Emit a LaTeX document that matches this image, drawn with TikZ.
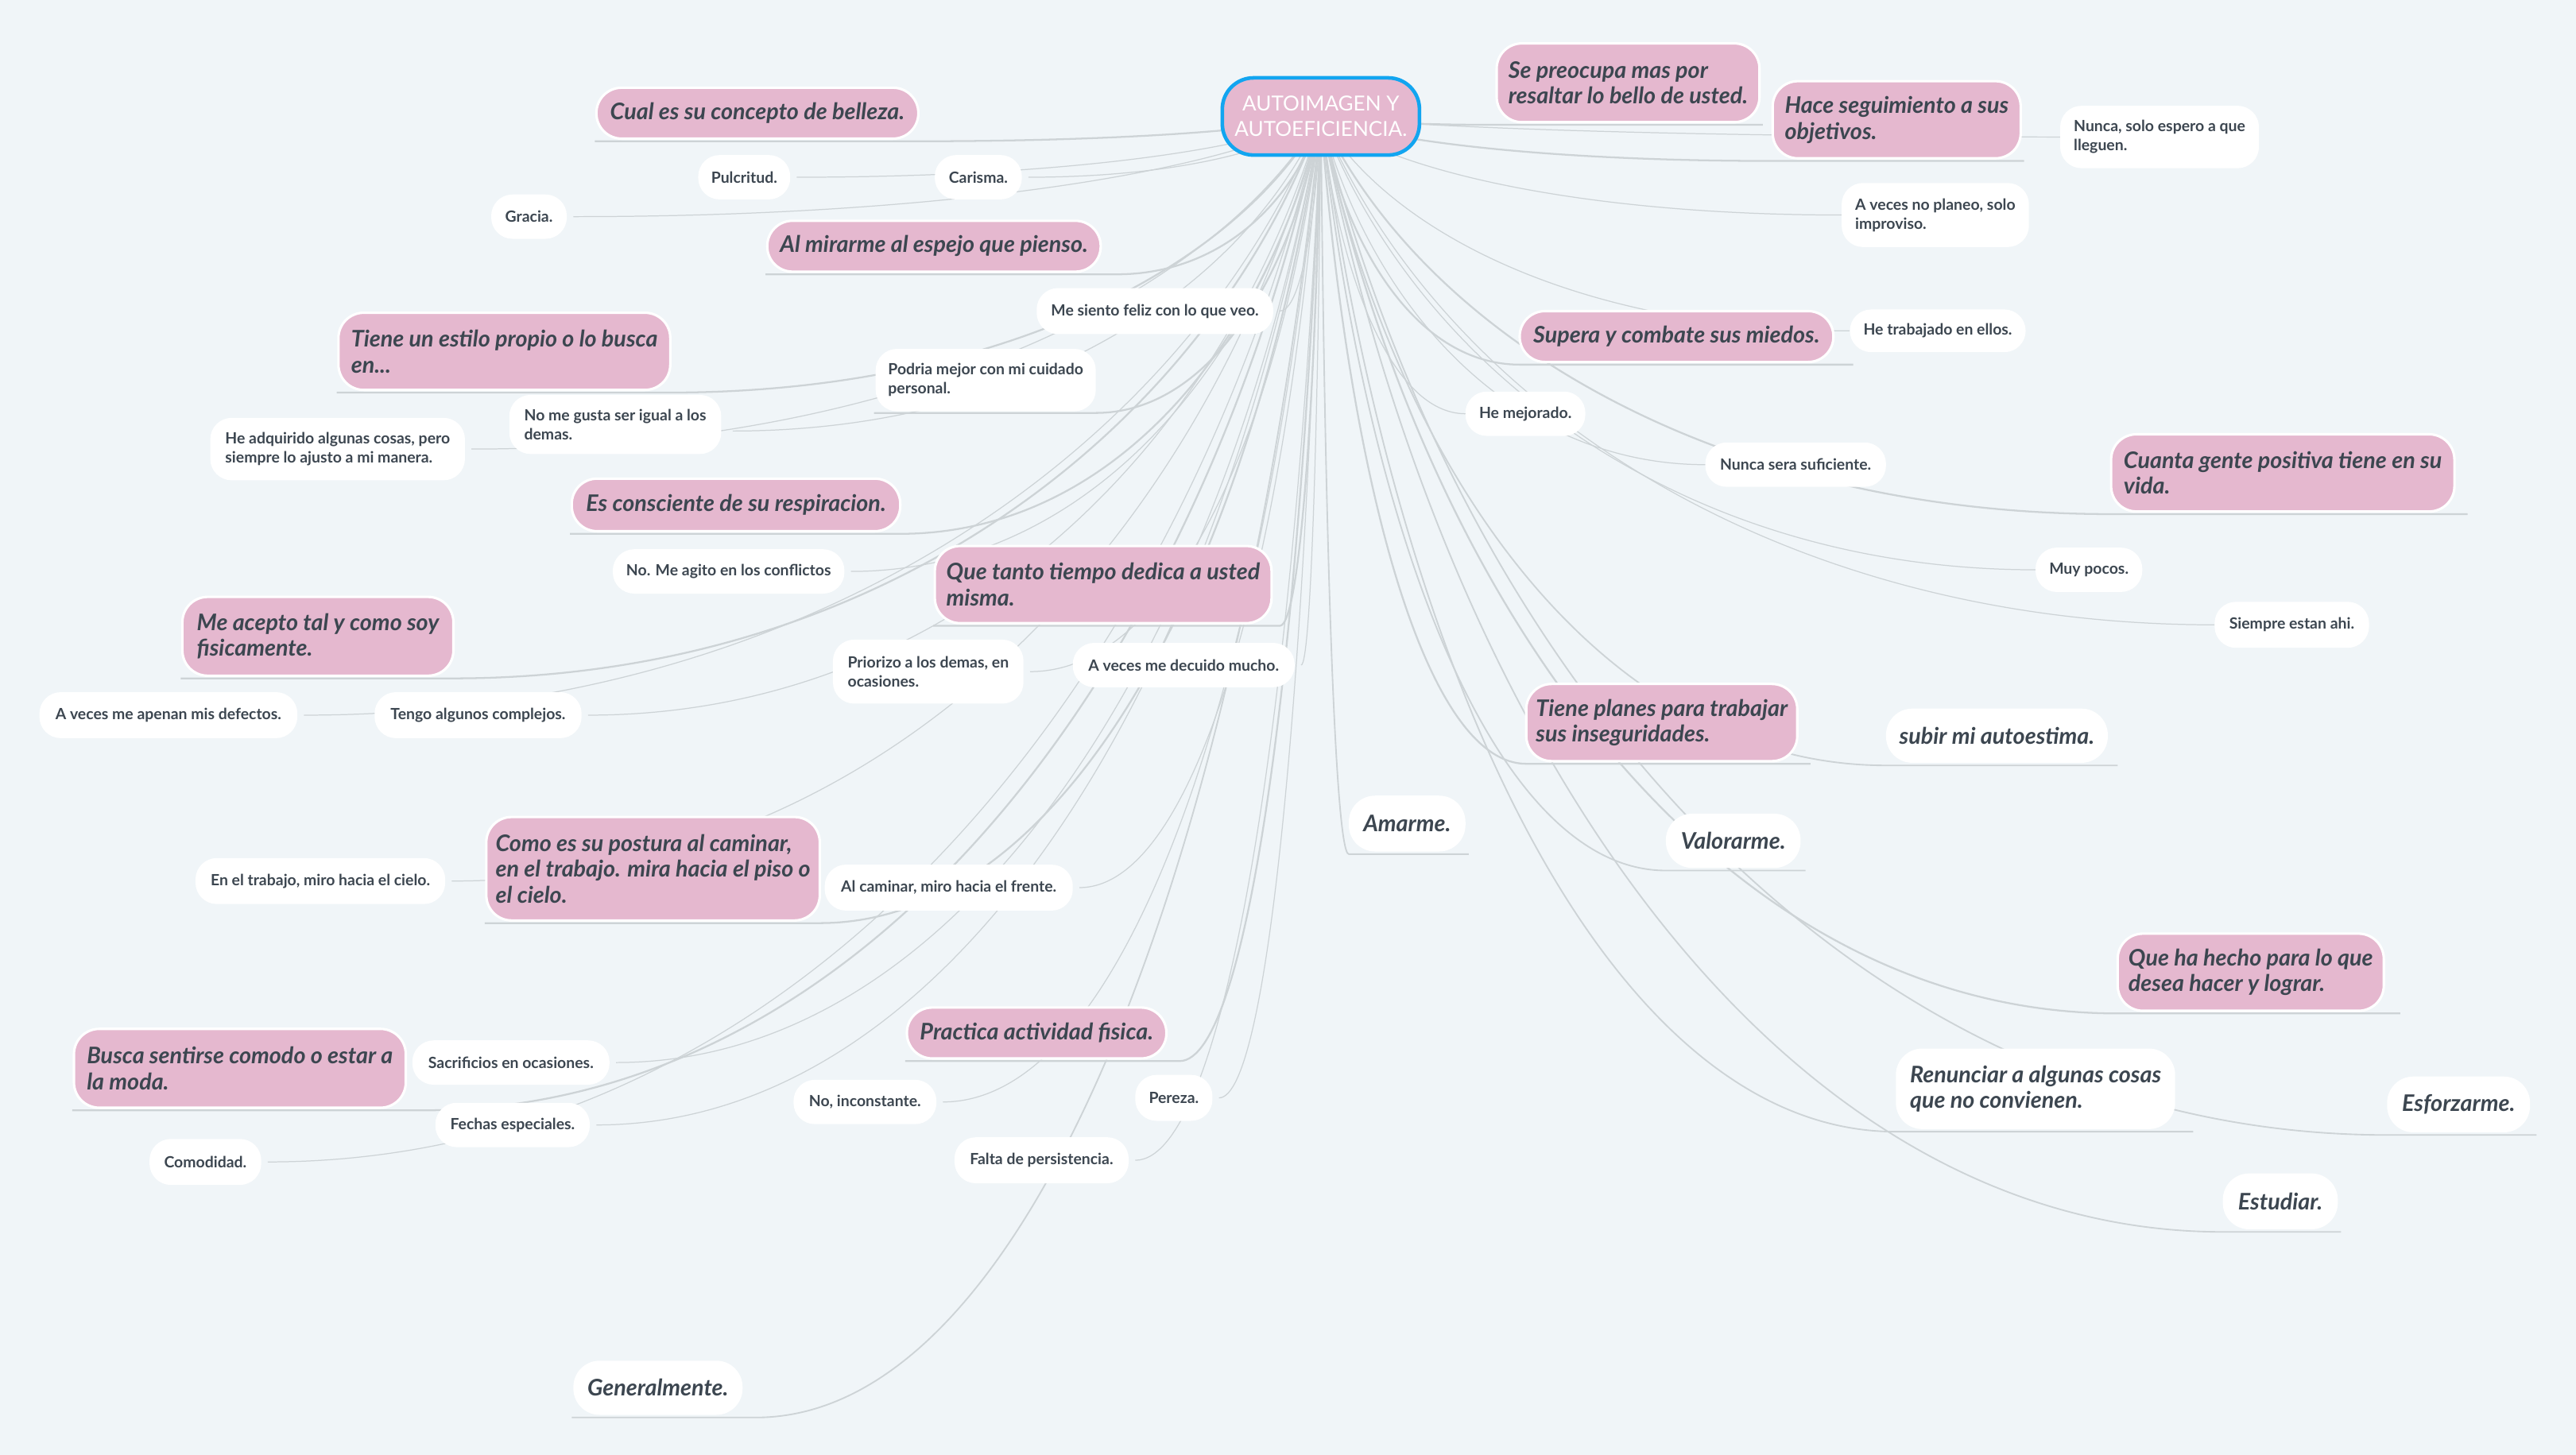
\documentclass[tikz,border=0pt]{standalone}
\usepackage{fontspec}
\setmainfont{Lato}
\usetikzlibrary{calc}
\pgfdeclarelayer{bglayer}
\pgfdeclarelayer{linklayer}
\pgfsetlayers{bglayer,linklayer,main}
\definecolor{bgc}{HTML}{F0F5F8}
\definecolor{pinkc}{HTML}{E5B8CF}
\definecolor{bluec}{HTML}{12A5F0}
\definecolor{linec}{HTML}{CDD3D6}
\definecolor{textc}{HTML}{3C4650}
\tikzset{
 basebox/.style={inner sep=0pt,outer sep=0pt,align=left,text=textc},
 rootbox/.style={basebox,align=center,fill=pinkc,draw=bluec,line width=2.2pt,rounded corners=19pt,text=white,font=\fontsize{12.6}{15.6}\selectfont},
 topicbox/.style={basebox,fill=pinkc,draw=white,line width=1.5pt,rounded corners=15.4pt,font=\fontsize{13.9}{15.8}\selectfont\bfseries\itshape},
 bigleaf/.style={basebox,fill=white,rounded corners=16pt,font=\fontsize{13.9}{15.8}\selectfont\bfseries\itshape},
 leaf/.style={basebox,fill=white,rounded corners=13pt,font=\fontsize{9.4}{11.6}\selectfont\bfseries},
 thick link/.style={draw=linec,line width=1.1pt},
 mid link/.style={draw=linec,line width=0.9pt},
 thin link/.style={draw=linec,line width=0.6pt},
}
\newcommand\place[7]{\node[#1,minimum width={#4-#3},minimum height={#6-#5}] (#2) at ({(#3+#4)/2},{(#5+#6)/2+0.4}) {#7};}
% style, end point, rest of the path
\newcommand\rl[3]{\draw[#1] let \p0=(root.center), \p1=(#2) in (\p0) .. controls ({\x0+0.13*(\x1-\x0)},{\y0+0.55*(\y1-\y0)}) and ({\x1-0.5*(\x1-\x0)},{\y1}) .. (\p1) #3;}
% underline under a node on the left (curve arrives at its right end)
\newcommand\uleft[3][0]{\rl{#2}{$(#3.south east)+(#1pt,-1.6pt)$}{-- ($(#3.south west)+(-1pt,-1.6pt)$)}}
% underline under a node on the right (curve arrives at its left end)
\newcommand\uright[3]{\rl{#1}{$(#2.south west)+(0pt,-1.6pt)$}{-- ($(#2.south east)+(#3pt,-1.6pt)$)}}
\newcommand\eastend[1]{\rl{thin link}{$(#1.east)+(4pt,0pt)$}{}}
\newcommand\westend[1]{\rl{thin link}{#1.west}{}}
\begin{document}
\begin{tikzpicture}[x=1pt,y=-1pt]
\begin{pgfonlayer}{bglayer}
\fill[bgc] (0,0) rectangle (1568,885.8);
\end{pgfonlayer}
\useasboundingbox (0,0) rectangle (1568,885.8);
\place{rootbox}{root}{744}{864}{47}{94}{AUTOIMAGEN Y\\AUTOEFICIENCIA.}
% topics
\place{topicbox}{a}{363}{559}{53}{84}{Cual es su concepto de belleza.}
\place{topicbox}{b}{911}{1071}{26}{74}{Se preocupa mas por\\resaltar lo bello de usted.}
\place{topicbox}{c}{1079}{1230}{49}{96}{Hace seguimiento a sus\\objetivos.}
\place{topicbox}{d}{467}{670}{134}{165}{Al mirarme al espejo que pienso.}
\place{topicbox}{e}{206}{408}{190}{237}{Tiene un estilo propio o lo busca\\en...}
\place{topicbox}{f}{925}{1116}{189}{220}{Supera y combate sus miedos.}
\place{topicbox}{g}{1285}{1494}{264}{311}{Cuanta gente positiva tiene en su\\vida.}
\place{topicbox}{h}{348}{548}{291}{323}{Es consciente de su respiracion.}
\place{topicbox}{i}{569}{774}{332}{379}{Que tanto tiempo dedica a usted\\misma.}
\place{topicbox}{j}{111}{276}{363}{411}{Me acepto tal y como soy\\fisicamente.}
\place{topicbox}{k}{929}{1094}{416}{463}{Tiene planes para trabajar\\sus inseguridades.}
\place{topicbox}{l}{296}{499}{497}{560}{Como es su postura al caminar,\\en el trabajo. mira hacia el piso o\\el cielo.}
\place{topicbox}{m}{1289}{1451}{568}{615}{Que ha hecho para lo que\\desea hacer y lograr.}
\place{topicbox}{n}{552}{710}{613}{644}{Practica actividad fisica.}
\place{topicbox}{o}{45}{247}{626}{674}{Busca sentirse comodo o estar a\\la moda.}
% large white leaves
\place{bigleaf}{p}{1148}{1283}{431}{464}{subir mi autoestima.}
\place{bigleaf}{q}{821}{892}{484}{518}{Amarme.}
\place{bigleaf}{r}{1014}{1096}{495}{528}{Valorarme.}
\place{bigleaf}{s}{1154}{1324}{638}{687}{Renunciar a algunas cosas\\que no convienen.}
\place{bigleaf}{t}{1453}{1540}{655}{689}{Esforzarme.}
\place{bigleaf}{u}{1353}{1423}{714}{748}{Estudiar.}
\place{bigleaf}{v}{349}{452}{828}{861}{Generalmente.}
% small leaves
\place{leaf}{la}{425}{481}{94}{121}{Pulcritud.}
\place{leaf}{lb}{569}{622}{94}{121}{Carisma.}
\place{leaf}{lc}{299}{345}{118}{145}{Gracia.}
\place{leaf}{ld}{1254}{1375}{64}{102}{Nunca, solo espero a que\\lleguen.}
\place{leaf}{le}{1121}{1235}{111}{150}{A veces no planeo, solo\\improviso.}
\place{leaf}{lf}{631}{775}{175}{203}{Me siento feliz con lo que veo.}
\place{leaf}{lg}{1126}{1233}{188}{214}{He trabajado en ellos.}
\place{leaf}{lh}{533}{667}{212}{250}{Podria mejor con mi cuidado\\personal.}
\place{leaf}{li}{310}{439}{240}{276}{No me gusta ser igual a los\\demas.}
\place{leaf}{lj}{892}{965}{238}{265}{He mejorado.}
\place{leaf}{lk}{128}{283}{254}{292}{He adquirido algunas cosas, pero\\siempre lo ajusto a mi manera.}
\place{leaf}{ll}{1038}{1148}{269}{296}{Nunca sera suficiente.}
\place{leaf}{lm}{1239}{1304}{333}{360}{Muy pocos.}
\place{leaf}{ln}{373}{514}{334}{361}{No. Me agito en los conflictos}
\place{leaf}{lo}{1348}{1442}{366}{394}{Siempre estan ahi.}
\place{leaf}{lp}{507}{623}{389}{428}{Priorizo a los demas, en\\ocasiones.}
\place{leaf}{lq}{653}{788}{391}{418}{A veces me decuido mucho.}
\place{leaf}{lr}{24}{181}{421}{449}{A veces me apenan mis defectos.}
\place{leaf}{ls}{228}{354}{421}{449}{Tengo algunos complejos.}
\place{leaf}{lt}{119}{271}{522}{550}{En el trabajo, miro hacia el cielo.}
\place{leaf}{lu}{502}{653}{526}{554}{Al caminar, miro hacia el frente.}
\place{leaf}{lv}{251}{371}{633}{660}{Sacrificios en ocasiones.}
\place{leaf}{lw}{265}{359}{671}{698}{Fechas especiales.}
\place{leaf}{lx}{91}{159}{693}{721}{Comodidad.}
\place{leaf}{ly}{483}{570}{657}{684}{No, inconstante.}
\place{leaf}{lz}{691}{738}{654}{682}{Pereza.}
\place{leaf}{lza}{581}{687}{692}{720}{Falta de persistencia.}
\begin{pgfonlayer}{linklayer}
% topics on the left
\uleft{thick link}{a}
\uleft[10]{thick link}{d}
\uleft{thick link}{e}
\uleft{thick link}{h}
\uleft[5]{thick link}{i}
\uleft{thick link}{j}
\uleft{thick link}{l}
\uleft[8]{thick link}{n}
\uleft[10]{thick link}{o}
\uleft[8]{mid link}{v}
% topics on the right
\uright{thick link}{b}{2}
\uright{thick link}{c}{2}
\uright{thick link}{f}{12}
\uright{thick link}{g}{8}
\uright{thick link}{k}{8}
\uright{thick link}{m}{10}
\uright{mid link}{p}{6}
\uright{mid link}{q}{2}
\uright{mid link}{r}{3}
\uright{mid link}{s}{11}
\uright{mid link}{t}{4}
\uright{mid link}{u}{2}
% small leaves
\eastend{la}
\eastend{lb}
\eastend{lc}
\westend{ld}
\westend{le}
\eastend{lf}
\westend{lg}
\rl{thick link}{$(lh.south east)+(0pt,-1pt)$}{-- ($(lh.south west)+(-1pt,-1pt)$)}
\rl{thin link}{$(li.east)+(7pt,-4pt)$}{}
\westend{lj}
\eastend{lk}
\westend{ll}
\westend{lm}
\eastend{ln}
\westend{lo}
\eastend{lp}
\eastend{lq}
\eastend{lr}
\eastend{ls}
\eastend{lt}
\eastend{lu}
\eastend{lv}
\eastend{lw}
\eastend{lx}
\eastend{ly}
\eastend{lz}
\eastend{lza}
\end{pgfonlayer}
\end{tikzpicture}
\end{document}
